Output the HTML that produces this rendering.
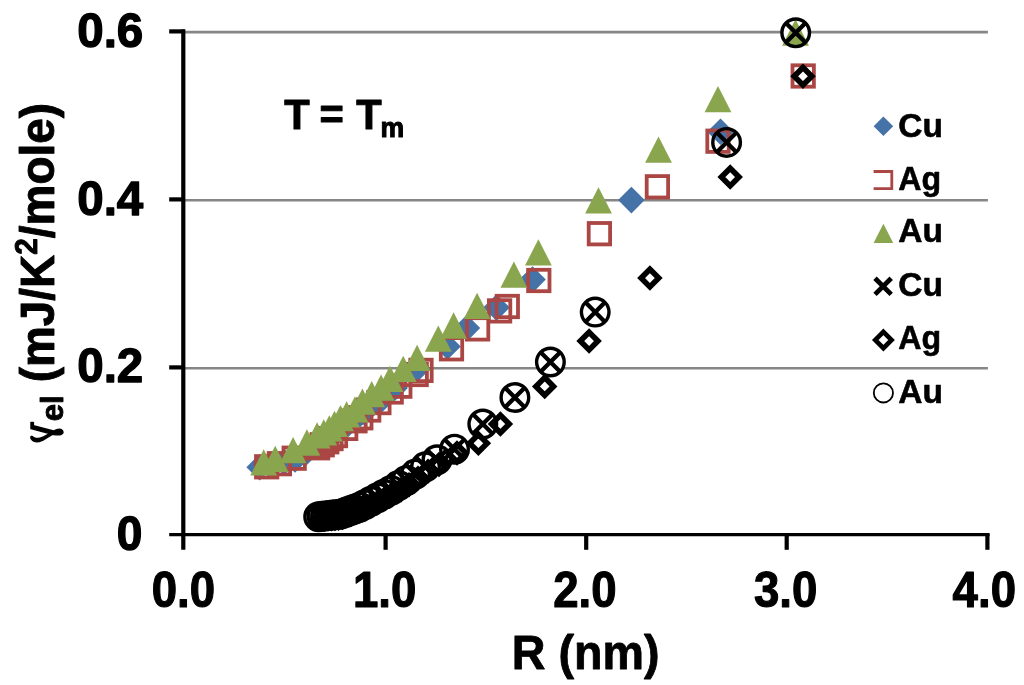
<!DOCTYPE html>
<html lang="en"><head><meta charset="utf-8"><title>Electronic specific heat coefficient vs R</title>
<style>html,body{margin:0;padding:0;background:#fff}body{width:1024px;height:685px;overflow:hidden}svg{display:block;filter:blur(0.6px)}text{font-family:"Liberation Sans",sans-serif;font-weight:bold;fill:#000;stroke:#000;stroke-width:1.3px;stroke-linejoin:round}</style></head><body>
<svg width="1024" height="685" viewBox="0 0 1024 685">
<rect width="1024" height="685" fill="#fff"/>
<g id="grid" stroke="#868686" stroke-width="2.6" fill="none">
<line x1="185" y1="32.1" x2="987.9" y2="32.1"/>
<line x1="185" y1="200.2" x2="987.9" y2="200.2"/>
<line x1="185" y1="368.2" x2="987.9" y2="368.2"/>
</g>
<g id="mask" fill="#fff"><circle cx="795.7" cy="32.8" r="13.8"/><circle cx="550.4" cy="362" r="13.8"/></g>
<g id="axes" stroke="#000" fill="none">
<line x1="183.3" y1="29.4" x2="183.3" y2="549.8" stroke-width="4.2"/>
<line x1="169.2" y1="534.6" x2="989.6" y2="534.6" stroke-width="3.2"/>
<line x1="169.2" y1="31.4" x2="185" y2="31.4" stroke-width="4.2"/>
<line x1="169.2" y1="199.4" x2="185" y2="199.4" stroke-width="4.2"/>
<line x1="169.2" y1="367.4" x2="185" y2="367.4" stroke-width="4.2"/>
<line x1="385.6" y1="534" x2="385.6" y2="549.8" stroke-width="4.2"/>
<line x1="586.2" y1="534" x2="586.2" y2="549.8" stroke-width="4.2"/>
<line x1="786.7" y1="534" x2="786.7" y2="549.8" stroke-width="4.2"/>
<line x1="987.4" y1="534" x2="987.4" y2="549.8" stroke-width="4.2"/>
</g>
<g id="s-cu" fill="#4572A7" stroke="none">
<path d="M259.7 453.9L273 467.2L259.7 480.5L246.4 467.2Z"/>
<path d="M272 451.7L285.3 465L272 478.3L258.7 465Z"/>
<path d="M284 448.7L297.3 462L284 475.3L270.7 462Z"/>
<path d="M295 446.2L308.3 459.5L295 472.8L281.7 459.5Z"/>
<path d="M306.6 438.6L319.9 451.9L306.6 465.2L293.3 451.9Z"/>
<path d="M316 433.7L329.3 447L316 460.3L302.7 447Z"/>
<path d="M324 428.7L337.3 442L324 455.3L310.7 442Z"/>
<path d="M332 422.7L345.3 436L332 449.3L318.7 436Z"/>
<path d="M340 416.7L353.3 430L340 443.3L326.7 430Z"/>
<path d="M348 410.7L361.3 424L348 437.3L334.7 424Z"/>
<path d="M356 404.7L369.3 418L356 431.3L342.7 418Z"/>
<path d="M363 398.7L376.3 412L363 425.3L349.7 412Z"/>
<path d="M369.9 393.4L383.2 406.7L369.9 420L356.6 406.7Z"/>
<path d="M381.6 386.2L394.9 399.5L381.6 412.8L368.3 399.5Z"/>
<path d="M385.8 380.1L399.1 393.4L385.8 406.7L372.5 393.4Z"/>
<path d="M394.6 374.7L407.9 388L394.6 401.3L381.3 388Z"/>
<path d="M417.5 355.2L430.8 368.5L417.5 381.8L404.2 368.5Z"/>
<path d="M447.5 333.2L460.8 346.5L447.5 359.8L434.2 346.5Z"/>
<path d="M466.9 314.8L480.2 328.1L466.9 341.4L453.6 328.1Z"/>
<path d="M496.5 294.3L509.8 307.6L496.5 320.9L483.2 307.6Z"/>
<path d="M532.5 266.3L545.8 279.6L532.5 292.9L519.2 279.6Z"/>
<path d="M631.4 186.8L644.7 200.1L631.4 213.4L618.1 200.1Z"/>
<path d="M720.5 118.5L733.8 131.8L720.5 145.1L707.2 131.8Z"/>
</g>
<g id="s-ag" fill="none" stroke="#AA4643" stroke-width="3.8">
<rect x="256" y="456.1" width="21.4" height="21.4"/>
<rect x="268.7" y="453" width="21.4" height="21.4"/>
<rect x="283.5" y="447.5" width="21.4" height="21.4"/>
<rect x="306.9" y="437.1" width="21.4" height="21.4"/>
<rect x="311.5" y="434.1" width="21.4" height="21.4"/>
<rect x="316.1" y="431.1" width="21.4" height="21.4"/>
<rect x="320.3" y="427.9" width="21.4" height="21.4"/>
<rect x="324.8" y="424.9" width="21.4" height="21.4"/>
<rect x="335" y="417.7" width="21.4" height="21.4"/>
<rect x="344.3" y="410.1" width="21.4" height="21.4"/>
<rect x="350.1" y="407.1" width="21.4" height="21.4"/>
<rect x="358" y="399.3" width="21.4" height="21.4"/>
<rect x="368.2" y="391.9" width="21.4" height="21.4"/>
<rect x="380.5" y="381.3" width="21.4" height="21.4"/>
<rect x="389.1" y="375.5" width="21.4" height="21.4"/>
<rect x="405.5" y="363.8" width="21.4" height="21.4"/>
<rect x="410.3" y="359.7" width="21.4" height="21.4"/>
<rect x="440.8" y="338.1" width="21.4" height="21.4"/>
<rect x="466.9" y="318.2" width="21.4" height="21.4"/>
<rect x="488.9" y="300.2" width="21.4" height="21.4"/>
<rect x="496.6" y="295.8" width="21.4" height="21.4"/>
<rect x="528.1" y="269.8" width="21.4" height="21.4"/>
<rect x="588.7" y="223" width="21.4" height="21.4"/>
<rect x="646.7" y="176.1" width="21.4" height="21.4"/>
<rect x="707.3" y="130.5" width="21.4" height="21.4"/>
<rect x="792.5" y="65.3" width="21.4" height="21.4"/>
</g>
<g id="s-au" fill="#89A54E" stroke="none">
<path d="M263.7 449.25L277.1 475.55L250.3 475.55Z"/>
<path d="M275.2 445.75L288.6 472.05L261.8 472.05Z"/>
<path d="M293.1 437.05L306.5 463.35L279.7 463.35Z"/>
<path d="M306.9 429.35L320.3 455.65L293.5 455.65Z"/>
<path d="M317.1 422.25L330.5 448.55L303.7 448.55Z"/>
<path d="M323.8 419.15L337.2 445.45L310.4 445.45Z"/>
<path d="M329.3 415.25L342.7 441.55L315.9 441.55Z"/>
<path d="M334.5 410.65L347.9 436.95L321.1 436.95Z"/>
<path d="M340.5 404.95L353.9 431.25L327.1 431.25Z"/>
<path d="M346.6 401.15L360 427.45L333.2 427.45Z"/>
<path d="M355 396.15L368.4 422.45L341.6 422.45Z"/>
<path d="M362.4 388.45L375.8 414.75L349 414.75Z"/>
<path d="M371.7 381.05L385.1 407.35L358.3 407.35Z"/>
<path d="M381.1 374.45L394.5 400.75L367.7 400.75Z"/>
<path d="M390 365.75L403.4 392.05L376.6 392.05Z"/>
<path d="M403.2 355.65L416.6 381.95L389.8 381.95Z"/>
<path d="M417.1 344.75L430.5 371.05L403.7 371.05Z"/>
<path d="M438.3 325.45L451.7 351.75L424.9 351.75Z"/>
<path d="M453.6 312.35L467 338.65L440.2 338.65Z"/>
<path d="M477.1 292.65L490.5 318.95L463.7 318.95Z"/>
<path d="M513.9 261.55L527.3 287.85L500.5 287.85Z"/>
<path d="M538.4 239.25L551.8 265.55L525 265.55Z"/>
<path d="M598.5 187.25L611.9 213.55L585.1 213.55Z"/>
<path d="M658.5 136.55L671.9 162.85L645.1 162.85Z"/>
<path d="M718 85.95L731.4 112.25L704.6 112.25Z"/>
<path d="M795.5 19.35L808.9 45.65L782.1 45.65Z"/>
</g>
<g id="s-cu2" fill="none" stroke="#000" stroke-width="4.3">
<path d="M308.4 506.4L329 527M308.4 527L329 506.4"/>
<path d="M311.7 506.02L332.3 526.62M311.7 526.62L332.3 506.02"/>
<path d="M315.2 505.61L335.8 526.21M315.2 526.21L335.8 505.61"/>
<path d="M318.7 505.2L339.3 525.8M318.7 525.8L339.3 505.2"/>
<path d="M322.2 504.79L342.8 525.39M322.2 525.39L342.8 504.79"/>
<path d="M325.7 504.38L346.3 524.98M325.7 524.98L346.3 504.38"/>
<path d="M329.7 503.92L350.3 524.52M329.7 524.52L350.3 503.92"/>
<path d="M334.2 502.5L354.8 523.1M334.2 523.1L354.8 502.5"/>
<path d="M338.7 500.82L359.3 521.42M338.7 521.42L359.3 500.82"/>
<path d="M343.7 498.96L364.3 519.56M343.7 519.56L364.3 498.96"/>
<path d="M349.2 496.91L369.8 517.51M349.2 517.51L369.8 496.91"/>
<path d="M354.7 494.27L375.3 514.87M354.7 514.87L375.3 494.27"/>
<path d="M360.7 491.05L381.3 511.65M360.7 511.65L381.3 491.05"/>
<path d="M367.2 487.56L387.8 508.16M367.2 508.16L387.8 487.56"/>
<path d="M373.7 483.97L394.3 504.57M373.7 504.57L394.3 483.97"/>
<path d="M380.7 480.1L401.3 500.7M380.7 500.7L401.3 480.1"/>
<path d="M388.2 475.29L408.8 495.89M388.2 495.89L408.8 475.29"/>
<path d="M396.2 470.16L416.8 490.76M396.2 490.76L416.8 470.16"/>
<path d="M405.2 463.79L425.8 484.39M405.2 484.39L425.8 463.79"/>
<path d="M415.2 456.57L435.8 477.17M415.2 477.17L435.8 456.57"/>
<path d="M426.7 449.48L447.3 470.08M426.7 470.08L447.3 449.48"/>
<path d="M444.2 438.9L464.8 459.5M444.2 459.5L464.8 438.9"/>
<path d="M472.5 413.7L493.1 434.3M472.5 434.3L493.1 413.7"/>
<path d="M504.6 387.2L525.2 407.8M504.6 407.8L525.2 387.2"/>
<path d="M540.1 351.7L560.7 372.3M540.1 372.3L560.7 351.7"/>
<path d="M584.9 301.8L605.5 322.4M584.9 322.4L605.5 301.8"/>
<path d="M716.3 132.1L736.9 152.7M716.3 152.7L736.9 132.1"/>
<path d="M785.4 22.5L806 43.1M785.4 43.1L806 22.5"/>
</g>
<g id="s-ag2" fill="none" stroke="#000" stroke-width="5.6" stroke-linejoin="miter">
<path d="M321.5 510.73L330.3 519.53L321.5 528.33L312.7 519.53Z"/>
<path d="M324.5 510.52L333.3 519.32L324.5 528.12L315.7 519.32Z"/>
<path d="M328 510.27L336.8 519.07L328 527.87L319.2 519.07Z"/>
<path d="M331.5 510.02L340.3 518.82L331.5 527.62L322.7 518.82Z"/>
<path d="M335 509.77L343.8 518.57L335 527.37L326.2 518.57Z"/>
<path d="M338.5 509.52L347.3 518.32L338.5 527.12L329.7 518.32Z"/>
<path d="M342.5 508.74L351.3 517.54L342.5 526.34L333.7 517.54Z"/>
<path d="M347 507.06L355.8 515.86L347 524.66L338.2 515.86Z"/>
<path d="M351.5 505.39L360.3 514.19L351.5 522.99L342.7 514.19Z"/>
<path d="M356.5 503.53L365.3 512.33L356.5 521.13L347.7 512.33Z"/>
<path d="M362 501.38L370.8 510.18L362 518.98L353.2 510.18Z"/>
<path d="M367.5 498.43L376.3 507.23L367.5 516.03L358.7 507.23Z"/>
<path d="M373.5 495.22L382.3 504.02L373.5 512.82L364.7 504.02Z"/>
<path d="M380 491.68L388.8 500.48L380 509.28L371.2 500.48Z"/>
<path d="M386.5 488.09L395.3 496.89L386.5 505.69L377.7 496.89Z"/>
<path d="M393.5 484L402.3 492.8L393.5 501.6L384.7 492.8Z"/>
<path d="M401 481.19L409.8 489.99L401 498.79L392.2 489.99Z"/>
<path d="M409 475.98L417.8 484.78L409 493.58L400.2 484.78Z"/>
<path d="M418 469.48L426.8 478.28L418 487.08L409.2 478.28Z"/>
<path d="M428 462.41L436.8 471.21L428 480.01L419.2 471.21Z"/>
<path d="M439 455.77L447.8 464.57L439 473.37L430.2 464.57Z"/>
<path d="M457 444.17L465.8 452.97L457 461.77L448.2 452.97Z"/>
<path d="M478.4 434.5L487.2 443.3L478.4 452.1L469.6 443.3Z"/>
<path d="M500.4 415.2L509.2 424L500.4 432.8L491.6 424Z"/>
<path d="M544.7 377.6L553.5 386.4L544.7 395.2L535.9 386.4Z"/>
<path d="M589.1 332.3L597.9 341.1L589.1 349.9L580.3 341.1Z"/>
<path d="M649.9 269.3L658.7 278.1L649.9 286.9L641.1 278.1Z"/>
<path d="M730.2 168.3L739 177.1L730.2 185.9L721.4 177.1Z"/>
<path d="M803 67.5L811.8 76.3L803 85.1L794.2 76.3Z"/>
</g>
<g id="s-au2" fill="none" stroke="#000" stroke-width="3.4">
<circle cx="318.7" cy="516.7" r="13.8"/>
<circle cx="322" cy="516.32" r="13.8"/>
<circle cx="325.5" cy="515.91" r="13.8"/>
<circle cx="329" cy="515.5" r="13.8"/>
<circle cx="332.5" cy="515.09" r="13.8"/>
<circle cx="336" cy="514.68" r="13.8"/>
<circle cx="340" cy="514.22" r="13.8"/>
<circle cx="344.5" cy="512.8" r="13.8"/>
<circle cx="349" cy="511.12" r="13.8"/>
<circle cx="354" cy="509.26" r="13.8"/>
<circle cx="359.5" cy="507.21" r="13.8"/>
<circle cx="365" cy="504.57" r="13.8"/>
<circle cx="371" cy="501.35" r="13.8"/>
<circle cx="377.5" cy="497.86" r="13.8"/>
<circle cx="384" cy="494.27" r="13.8"/>
<circle cx="391" cy="490.4" r="13.8"/>
<circle cx="398.5" cy="485.59" r="13.8"/>
<circle cx="406.5" cy="480.46" r="13.8"/>
<circle cx="415.5" cy="474.09" r="13.8"/>
<circle cx="425.5" cy="466.87" r="13.8"/>
<circle cx="437" cy="459.78" r="13.8"/>
<circle cx="454.5" cy="449.2" r="13.8"/>
<circle cx="482.8" cy="424" r="13.8"/>
<circle cx="514.9" cy="397.5" r="13.8"/>
<circle cx="550.4" cy="362" r="13.8"/>
<circle cx="595.2" cy="312.1" r="13.8"/>
<circle cx="726.6" cy="142.4" r="13.8"/>
<circle cx="795.7" cy="32.8" r="13.8"/>
</g>
<g id="legend-markers">
<g fill="#4572A7"><path d="M883.4 116.5L893.2 126.3L883.4 136.1L873.6 126.3Z"/></g>
<path d="M873.6 171.5H891.8V188.6H873.6" fill="none" stroke="#AA4643" stroke-width="2.8"/>
<g fill="#89A54E"><path d="M883.4 223.8L893.2 243L873.6 243Z"/></g>
<g fill="none" stroke="#000" stroke-width="4.8"><path d="M875 278.2L891.2 294.4M875 294.4L891.2 278.2"/></g>
<g fill="none" stroke="#000" stroke-width="4.6"><path d="M883.4 331.8L891.6 340L883.4 348.2L875.2 340Z"/></g>
<g fill="none" stroke="#000" stroke-width="1.8"><circle cx="883.4" cy="392.9" r="9.6"/></g>
</g>
<g id="ylabels">
<text id="y06" transform="translate(143.3 47.2) scale(0.99 1.02)" font-size="48" text-anchor="end">0.6</text>
<text id="y04" transform="translate(143.3 214.7) scale(0.99 1.02)" font-size="48" text-anchor="end">0.4</text>
<text id="y02" transform="translate(143.3 382.2) scale(0.99 1.02)" font-size="48" text-anchor="end">0.2</text>
<text id="y00" transform="translate(142.3 549.9) scale(0.96 1.02)" font-size="48" text-anchor="end">0</text>
</g>
<g id="xlabels">
<text id="x0" transform="translate(183.4 606.6) scale(0.95 1.04)" style="stroke-width:1.1px" font-size="48" text-anchor="middle">0.0</text>
<text id="x1" transform="translate(384.6 606.6) scale(0.95 1.04)" style="stroke-width:1.1px" font-size="48" text-anchor="middle">1.0</text>
<text id="x2" transform="translate(584.9 606.6) scale(0.95 1.04)" style="stroke-width:1.1px" font-size="48" text-anchor="middle">2.0</text>
<text id="x3" transform="translate(785.7 606.6) scale(0.95 1.04)" style="stroke-width:1.1px" font-size="48" text-anchor="middle">3.0</text>
<text id="x4" transform="translate(984.3 606.6) scale(0.95 1.04)" style="stroke-width:1.1px" font-size="48" text-anchor="middle">4.0</text>
</g>
<text id="xtitle" transform="translate(585.7 669.2) scale(0.972 0.99)" style="stroke-width:0.8px" font-size="48" text-anchor="middle">R (nm)</text>
<g id="ytitle">
<text id="yt-gamma" transform="translate(54.2 445.1) rotate(-90) scale(-0.8 0.95)" text-anchor="end" font-size="48" style="font-family:'DejaVu Math TeX Gyre','DejaVu Serif',serif;font-weight:normal;stroke-width:1.6px">γ</text>
<text id="yt-sub" transform="translate(63.3 421.3) rotate(-90) scale(1 1)" font-size="31" style="stroke-width:0.9px">el</text>
<text id="yt-main" transform="translate(54.1 382.3) rotate(-90) scale(0.957 0.99)" font-size="48" style="stroke-width:0.9px">(mJ/K<tspan font-size="31" dy="-17.5">2</tspan><tspan dy="17.5">/mole)</tspan></text>
</g>
<text id="annot" transform="translate(284.3 129.1) scale(0.968 1)" font-size="43" style="stroke-width:1px">T<tspan dx="-1.75"> =</tspan><tspan dx="0.8"> T</tspan><tspan font-size="27.5" dy="7.9" dx="-1.2">m</tspan></text>
<g id="legend-text" font-size="33.5">
<text id="lg0" transform="translate(898.3 136.9) scale(1.0 1.0)" style="stroke-width:0.6px" font-size="33.5" text-anchor="start">Cu</text>
<text id="lg1" transform="translate(898.3 189.5) scale(0.96 1.0)" style="stroke-width:0.6px" font-size="33.5" text-anchor="start">Ag</text>
<text id="lg2" transform="translate(898.3 242) scale(1.0 1.0)" style="stroke-width:0.6px" font-size="33.5" text-anchor="start">Au</text>
<text id="lg3" transform="translate(898.3 295.9) scale(1.0 1.0)" style="stroke-width:0.6px" font-size="33.5" text-anchor="start">Cu</text>
<text id="lg4" transform="translate(898.3 348.8) scale(0.96 1.0)" style="stroke-width:0.6px" font-size="33.5" text-anchor="start">Ag</text>
<text id="lg5" transform="translate(898.3 402.5) scale(1.0 1.0)" style="stroke-width:0.6px" font-size="33.5" text-anchor="start">Au</text>
</g>
</svg></body></html>
